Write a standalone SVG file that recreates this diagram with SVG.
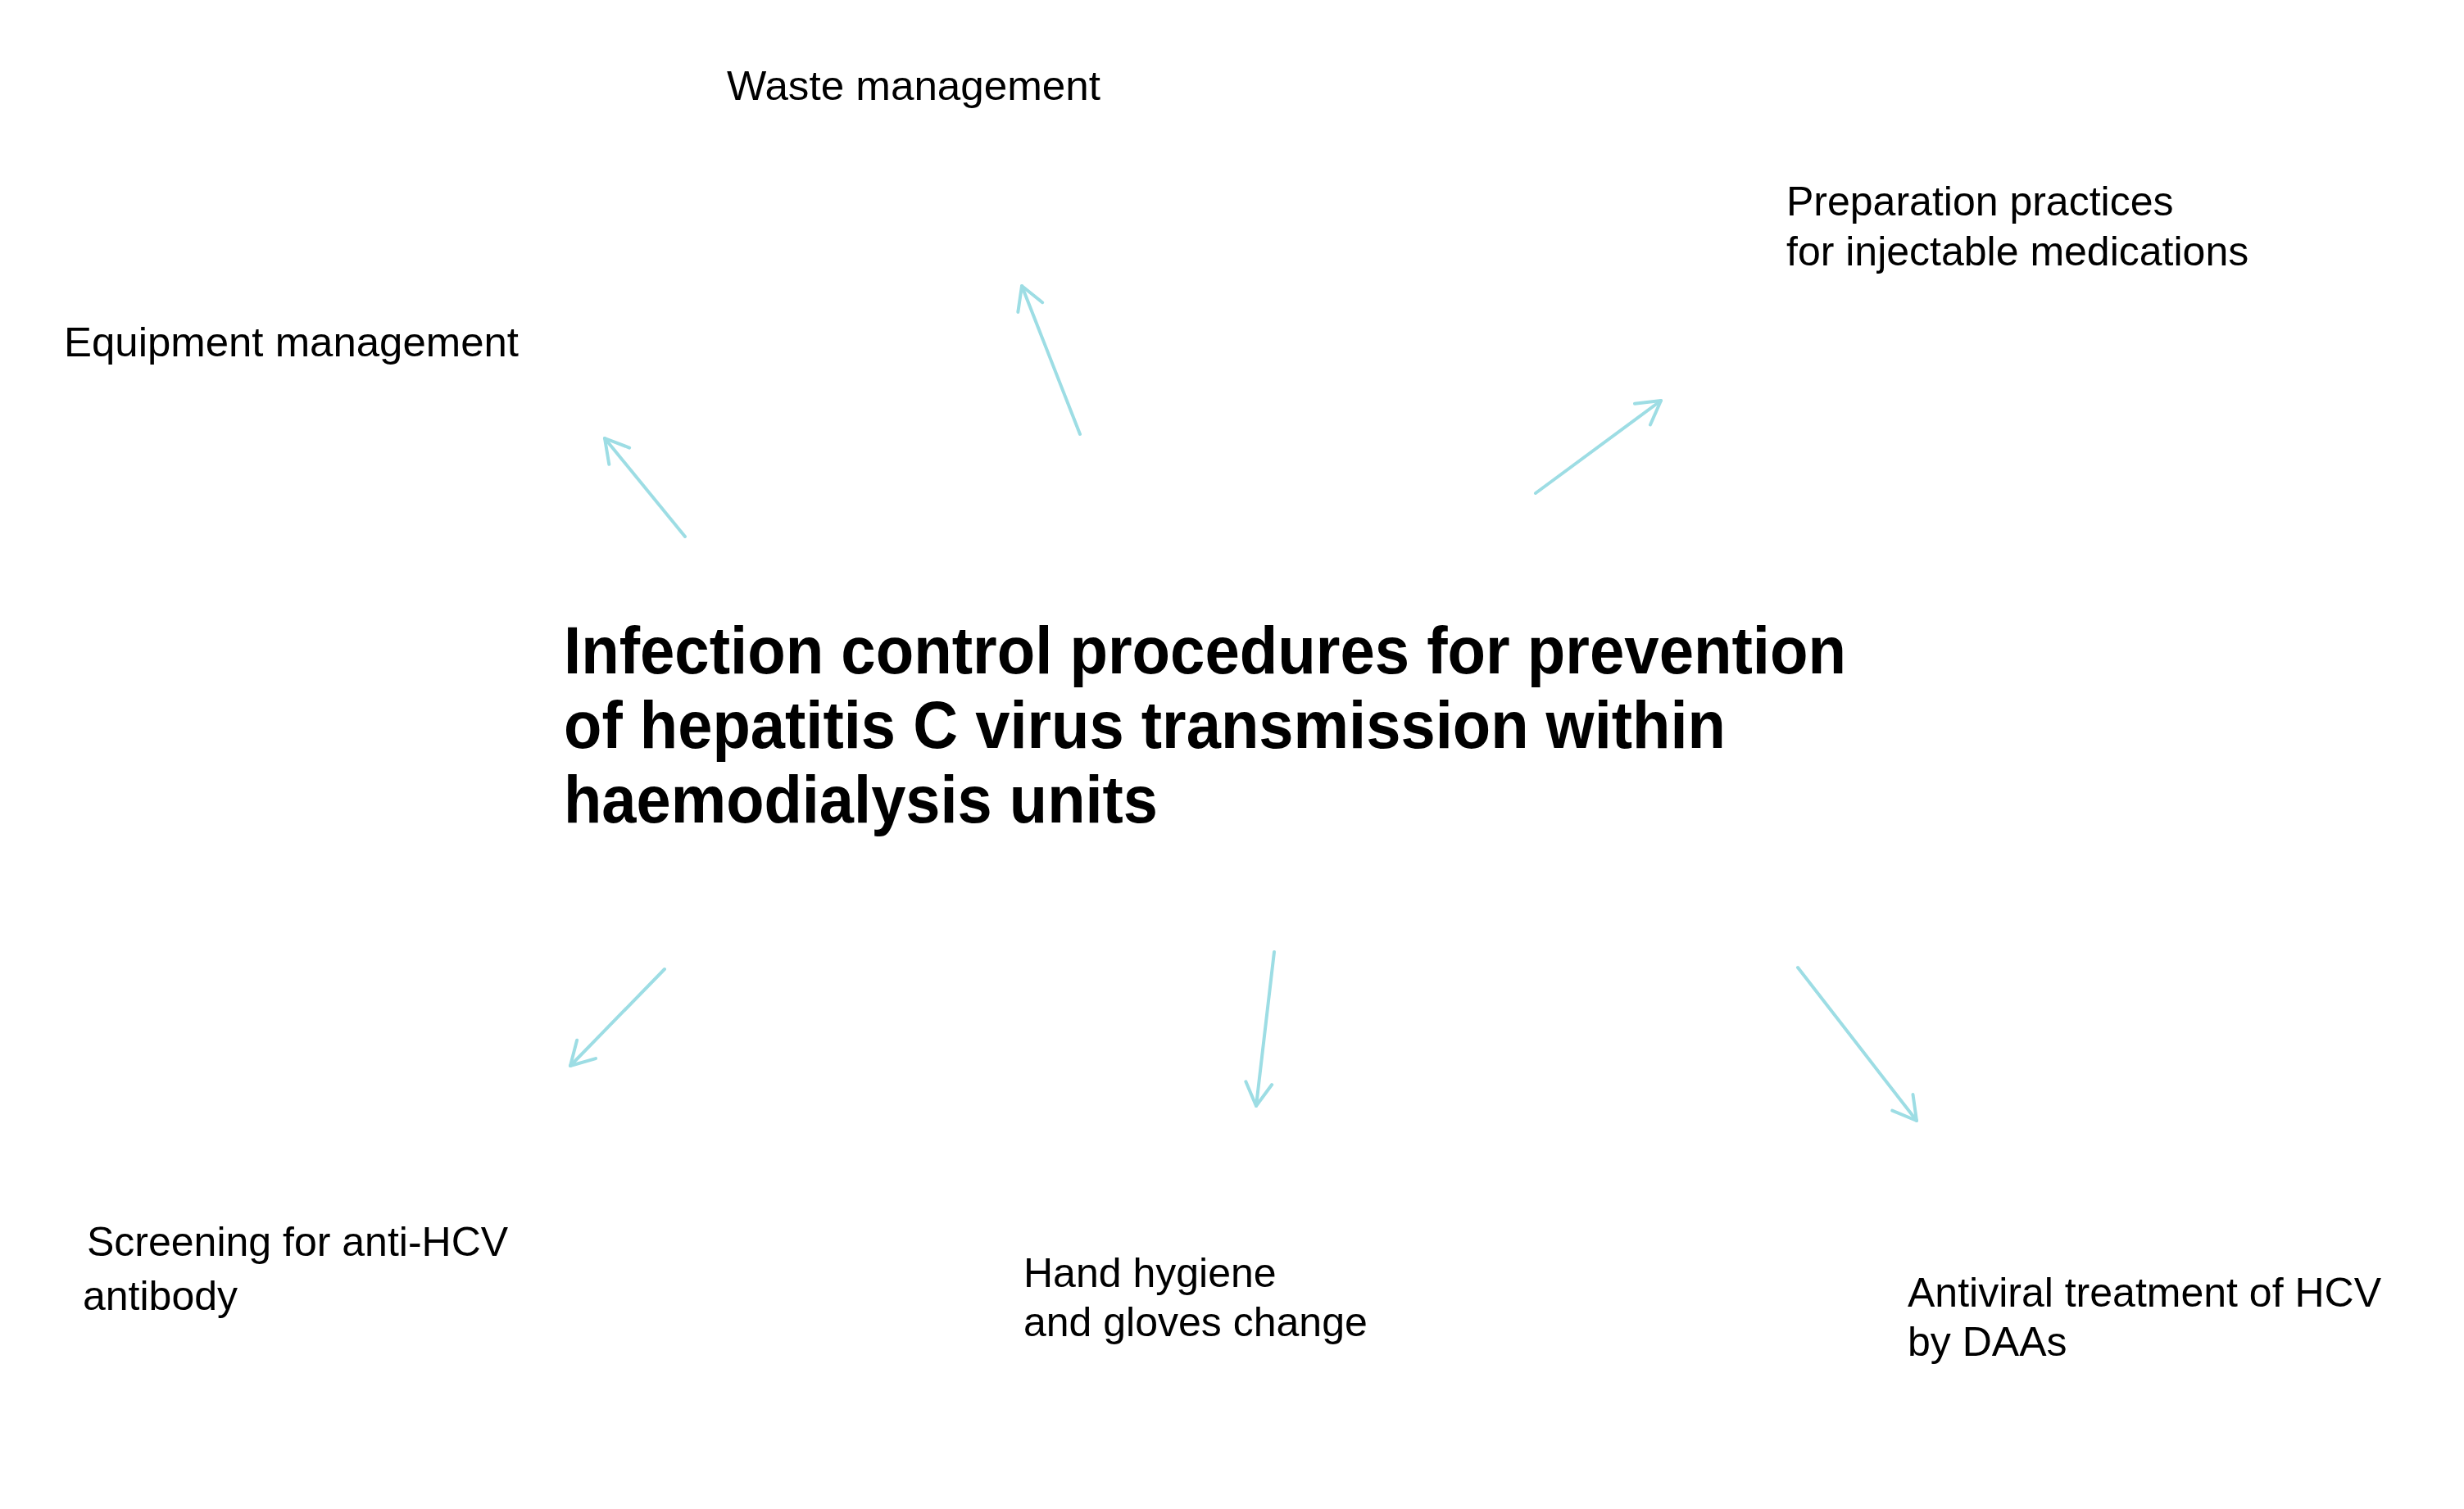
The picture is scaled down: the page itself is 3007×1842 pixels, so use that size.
<svg xmlns="http://www.w3.org/2000/svg" width="3007" height="1842" viewBox="0 0 3007 1842">
  <style>
    .lbl { font-family: "Liberation Sans", Arial, sans-serif; font-size: 50px; fill: #000; }
    .title { font-family: "Liberation Sans", Arial, sans-serif; font-size: 82px; font-weight: bold; fill: #000; }
    .conn { stroke: #9ddde4; stroke-width: 4; fill: none; stroke-linecap: round; }
  </style>
  <defs>
    <marker id="arrow" markerUnits="userSpaceOnUse" orient="auto" refX="0" refY="0" markerWidth="80" markerHeight="80" viewBox="-40 -40 80 80" overflow="visible">
      <path d="M -28 -16 L 0 0 L -28 16" fill="none" stroke="#9ddde4" stroke-width="4" stroke-linecap="round" stroke-linejoin="round"/>
    </marker>
  </defs>
  <rect x="0" y="0" width="3007" height="1842" fill="#ffffff"/>

  <g id="center">
    <text class="title" x="688" y="822" textLength="1565" lengthAdjust="spacingAndGlyphs">Infection control procedures for prevention</text>
    <text class="title" x="688" y="913" textLength="1418" lengthAdjust="spacingAndGlyphs">of hepatitis C virus transmission within</text>
    <text class="title" x="688" y="1004" textLength="725" lengthAdjust="spacingAndGlyphs">haemodialysis units</text>
  </g>

  <g id="waste">
    <text class="lbl" x="887" y="122" textLength="456" lengthAdjust="spacingAndGlyphs">Waste management</text>
  </g>

  <g id="equipment">
    <text class="lbl" x="78" y="435" textLength="555" lengthAdjust="spacingAndGlyphs">Equipment management</text>
  </g>

  <g id="preparation">
    <text class="lbl" x="2180" y="263">Preparation practices</text>
    <text class="lbl" x="2180" y="324">for injectable medications</text>
  </g>

  <g id="screening">
    <text class="lbl" x="106" y="1533">Screening for anti-HCV</text>
    <text class="lbl" x="101" y="1599">antibody</text>
  </g>

  <g id="hand">
    <text class="lbl" x="1249" y="1571">Hand hygiene</text>
    <text class="lbl" x="1249" y="1631">and gloves change</text>
  </g>

  <g id="antiviral">
    <text class="lbl" x="2328" y="1595">Antiviral treatment of HCV</text>
    <text class="lbl" x="2328" y="1655">by DAAs</text>
  </g>

  <g id="connectors">
    <line class="conn" x1="836" y1="655" x2="738" y2="535" marker-end="url(#arrow)"/>
    <line class="conn" x1="1318" y1="530" x2="1247" y2="349" marker-end="url(#arrow)"/>
    <line class="conn" x1="1874" y1="602" x2="2027" y2="489" marker-end="url(#arrow)"/>
    <line class="conn" x1="811" y1="1183" x2="696" y2="1301" marker-end="url(#arrow)"/>
    <line class="conn" x1="1555" y1="1162" x2="1533" y2="1350" marker-end="url(#arrow)"/>
    <line class="conn" x1="2194" y1="1181" x2="2339" y2="1368" marker-end="url(#arrow)"/>
  </g>
</svg>
